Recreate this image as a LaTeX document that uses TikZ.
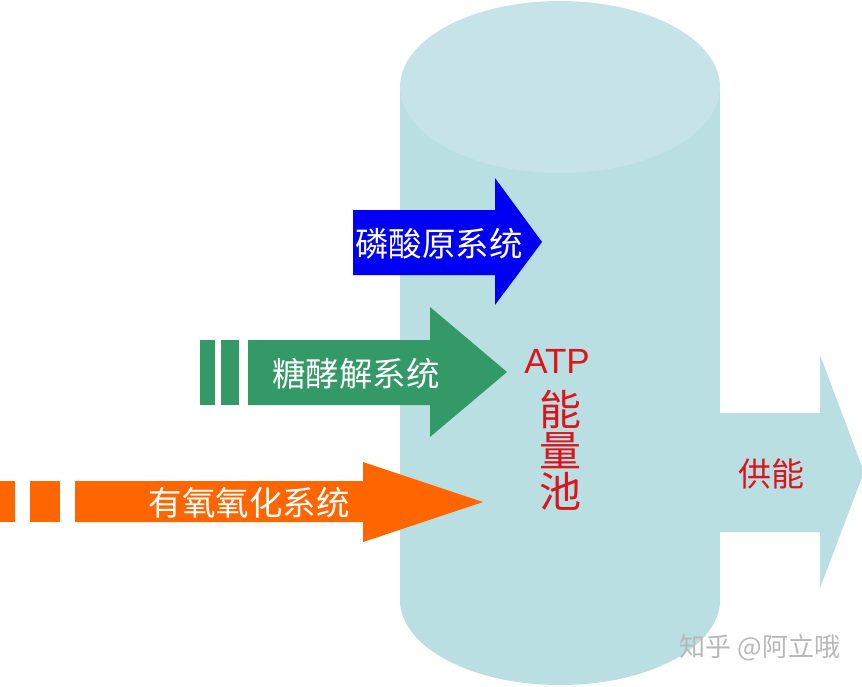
\documentclass[tikz,border=0pt]{standalone}
\usepackage{fontspec}
\newfontfamily\cjk{Noto Sans CJK SC}
\newfontfamily\arial{Liberation Sans}
\definecolor{pool}{HTML}{B9DFE3}
\definecolor{pooltop}{HTML}{C6E4E7}
\definecolor{phos}{HTML}{0000F5}
\definecolor{glyc}{HTML}{339966}
\definecolor{oxid}{HTML}{FF6600}
\definecolor{redtxt}{HTML}{DC141C}
\definecolor{wm}{HTML}{B8B8B8}
\begin{document}
\begin{tikzpicture}[x=1pt,y=-1pt,
  lbl/.style={inner sep=0pt, font=\cjk\fontsize{33.5}{34}\selectfont, text=white},
  redlbl/.style={inner sep=0pt, text=redtxt}]
\fill[white] (0,0) rectangle (862,686);
\useasboundingbox (0,0) rectangle (862,686);
% supply arrow
\fill[pool] (700,413) -- (820,413) -- (820,355) -- (864,472) -- (820,588) -- (820,532) -- (700,532) -- cycle;
% cylinder
\fill[pool] (400,87) rectangle (720,600);
\fill[pool] (560,600) ellipse [x radius=160, y radius=85];
\fill[pooltop] (560,87) ellipse [x radius=160, y radius=86];
% phosphagen arrow
\fill[phos] (353,210) -- (495,210) -- (495,178) -- (542,242) -- (495,305) -- (495,275) -- (353,275) -- cycle;
% glycolysis arrow
\fill[glyc] (200,340) rectangle (215,405);
\fill[glyc] (221,340) rectangle (239,405);
\fill[glyc] (248,340) -- (430,340) -- (430,307) -- (507,372) -- (430,437) -- (430,405) -- (248,405) -- cycle;
% oxidative arrow
\fill[oxid] (0,481) rectangle (15,522);
\fill[oxid] (30,481) rectangle (60,522);
\fill[oxid] (75,481) -- (363,481) -- (363,462) -- (483,502) -- (363,542) -- (363,522) -- (75,522) -- cycle;
% labels
\node[lbl] (p) at (439,244) {磷酸原系统};
\node[lbl] (g) at (356,374) {糖酵解系统};
\node[lbl] (o) at (249,503) {有氧氧化系统};
\node[redlbl, font=\arial\fontsize{35}{35}\selectfont] (atp) at (557,361) {ATP};
\node[redlbl, font=\cjk\fontsize{42}{41}\selectfont, align=center] (pool) at (560,450) {能\\量\\池};
\node[redlbl, font=\cjk\fontsize{33}{33}\selectfont] (supply) at (771,474) {供能};
\node[inner sep=0pt, text=wm, font=\cjk\fontsize{26}{26}\selectfont] (mark) at (760,648) {知乎 @阿立哦};
\end{tikzpicture}
\end{document}
